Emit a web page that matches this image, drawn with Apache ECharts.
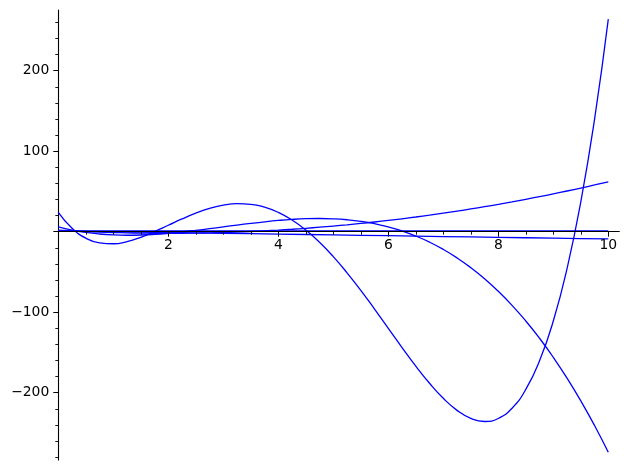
<!DOCTYPE html>
<html>
<head>
<meta charset="utf-8">
<script src="https://cdn.jsdelivr.net/npm/echarts@6/dist/echarts.min.js"></script>
<style>html,body{margin:0;padding:0;background:#fff}#c{width:628px;height:470px}</style>
</head>
<body>
<div id="c"></div>
<script>
// sample x positions
var xsHalf = [0,0.5,1,1.5,2,2.5,3,3.5,4,4.5,5,5.5,6,6.5,7,7.5,8,8.5,9,9.5,10];
var xsQuarter = [0,0.25,0.5,0.75,1,1.25,1.5,1.75,2,2.25,2.5,2.75,3,3.25,3.5,3.75,4,4.25,4.5,4.75,5,5.25,5.5,5.75,6,6.25,6.5,6.75,7,7.25,7.5,7.75,8,8.25,8.5,8.75,9,9.25,9.5,9.75,10];

// curve values
var curve0 = [1,1,1,1,1,1,1,1,1,1,1,1,1,1,1,1,1,1,1,1,1];
var curve1 = [1,0.5,0,-0.5,-1,-1.5,-2,-2.5,-3,-3.5,-4,-4.5,-5,-5.5,-6,-6.5,-7,-7.5,-8,-8.5,-9];
var curve2 = [2,1.06,0.25,-0.44,-1,-1.44,-1.75,-1.94,-2,-1.94,-1.75,-1.44,-1,-0.44,0.25,1.06,2,3.06,4.25,5.56,7,8.56,10.25,12.06,14,16.06,18.25,20.56,23,25.56,28.25,31.06,34,37.06,40.25,43.56,47,50.56,54.25,58.06,62];
var curve3 = [6,2.05,-0.88,-2.86,-4,-4.39,-4.13,-3.3,-2,-0.33,1.63,3.77,6,8.23,10.38,12.33,14,15.3,16.13,16.39,16,14.86,12.88,9.95,6,0.92,-5.38,-12.98,-22,-32.52,-44.63,-58.42,-74,-91.45,-110.88,-132.36,-156,-181.89,-210.13,-240.8,-274];
var curve4 = [24,4.25,-7.94,-13.93,-15,-12.31,-6.94,0.13,8,15.88,23.06,28.94,33,34.82,34.06,30.5,24,14.5,2.06,-13.18,-31,-51.06,-72.94,-96.12,-120,-143.87,-166.94,-188.31,-207,-221.93,-231.94,-235.75,-232,-219.25,-195.94,-160.43,-111,-45.81,37.06,139.63,264];

// tick values
var xMajorTicks = [2,4,6,8,10];
var xMinorTicks = [0.5,1,1.5,2,2.5,3,3.5,4,4.5,5,5.5,6,6.5,7,7.5,8,8.5,9,9.5,10];
var yMajorTicks = [-200,-100,100,200];
var yMinorTicks = [-280,-260,-240,-220,-200,-180,-160,-140,-120,-100,-80,-60,-40,-20,0,20,40,60,80,100,120,140,160,180,200,220,240,260];

function pairs(xs, ys){ return xs.map(function(x,i){ return [x, ys[i]]; }); }

var font = 'DejaVu Sans';
var fmt = function(v){ return String(v).replace('-', '\u2212'); };
var XMIN = 0, XMAX = 10.2, YMIN = -283.6, YMAX = 275.4;
var GRID_TOP = 10, GRID_BOTTOM = 10, H = 470;
var plotH = H - GRID_TOP - GRID_BOTTOM;
// distance from grid bottom edge up to the y = 0 line
var zeroOffset = plotH * (0 - YMIN) / (YMAX - YMIN);

var chart = echarts.init(document.getElementById('c'), null, {renderer:'canvas'});
var lineStyle = {color:'#0000ff', width:1.3};
function ser(data, smooth){
  return {type:'line', data:data, showSymbol:false, smooth:smooth, lineStyle:lineStyle, itemStyle:{color:'#0000ff'}, animation:false, xAxisIndex:0, yAxisIndex:0, z:3};
}
chart.setOption({
  animation:false,
  grid:{left:58.3, right:8.7, top:GRID_TOP, bottom:GRID_BOTTOM, containLabel:false, outerBoundsMode:'none'},
  xAxis:[
    {type:'value', min:XMIN, max:XMAX, position:'bottom', offset:-zeroOffset,
     axisLine:{show:true, onZero:false, lineStyle:{color:'#000', width:1.1}},
     axisTick:{show:true, inside:false, length:5, customValues:xMajorTicks, lineStyle:{color:'#000', width:1}},
     axisLabel:{show:true, customValues:xMajorTicks, margin:7, color:'#000', fontFamily:font, fontSize:13.9, formatter:fmt},
     splitLine:{show:false}, z:4},
    {type:'value', min:XMIN, max:XMAX, position:'bottom', offset:-zeroOffset,
     axisLine:{show:false, onZero:false},
     axisTick:{show:true, inside:false, length:3, customValues:xMinorTicks, lineStyle:{color:'#000', width:0.9}},
     axisLabel:{show:false},
     splitLine:{show:false}, z:4}
  ],
  yAxis:[
    {type:'value', min:YMIN, max:YMAX, position:'left',
     axisLine:{show:true, onZero:false, lineStyle:{color:'#000', width:1.1}},
     axisTick:{show:true, inside:false, length:5, customValues:yMajorTicks.concat([0]), lineStyle:{color:'#000', width:1}},
     axisLabel:{show:true, customValues:yMajorTicks, margin:9, color:'#000', fontFamily:font, fontSize:13.9, formatter:fmt},
     splitLine:{show:false}},
    {type:'value', min:YMIN, max:YMAX, position:'left',
     axisLine:{show:false, onZero:false},
     axisTick:{show:true, inside:false, length:3, customValues:yMinorTicks, lineStyle:{color:'#000', width:0.9}},
     axisLabel:{show:false},
     splitLine:{show:false}}
  ],
  series:[
    ser(pairs(xsHalf, curve0), false),
    ser(pairs(xsHalf, curve1), false),
    ser(pairs(xsQuarter, curve2), true),
    ser(pairs(xsQuarter, curve3), true),
    ser(pairs(xsQuarter, curve4), true)
  ]
});
</script>
</body>
</html>
